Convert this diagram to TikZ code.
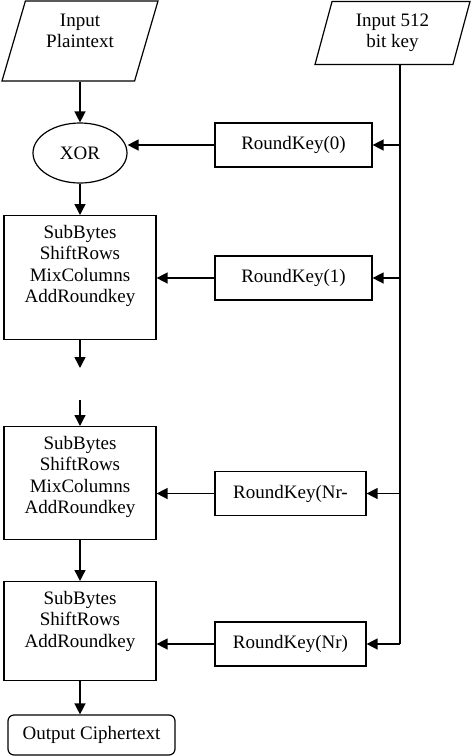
\documentclass[tikz,border=0pt]{standalone}
\usepackage{fontspec}
\setmainfont{Liberation Serif}
\usetikzlibrary{shapes.geometric, arrows.meta, positioning}
\usetikzlibrary{calc}

\begin{document}
\begin{tikzpicture}[x=1pt, y=1pt, line width=1.2pt,
		font=\fontsize{19}{21.5}\selectfont,
		io/.style={draw, trapezium, trapezium left angle=68, trapezium right angle=112, trapezium stretches body, align=center, inner sep=2pt},
		roundbox/.style={draw, align=center, anchor=north, minimum width=152pt, inner xsep=2pt, inner ysep=9.5pt},
		keybox/.style={draw, minimum height=44pt, inner sep=2pt},
		arr/.style={-{Triangle[length=11pt,width=11pt]}, line width=1.4pt}]
		\useasboundingbox (0,0) rectangle (474,-756);
		\draw (80,-41) node[io, minimum width=156pt, minimum height=80pt, text depth=20pt] (plain) {Input\\Plaintext}
		(392.5,-33) node[io, minimum width=155pt, minimum height=63pt] (key) {Input 512\\bit key}
		(80,-153) node[draw, ellipse, minimum width=94pt, minimum height=60pt, inner sep=0pt] (xor) {XOR}
		(80,-215) node[roundbox, text depth=27pt] (blk1) {SubBytes\\ShiftRows\\MixColumns\\AddRoundkey}
		(80,-426) node[roundbox, text depth=16pt] (blk2) {SubBytes\\ShiftRows\\MixColumns\\AddRoundkey}
		(80,-581) node[roundbox, text depth=24pt] (blk3) {SubBytes\\ShiftRows\\AddRoundkey}
		(91.5,-735) node[draw, rounded corners=6pt, minimum width=167pt, minimum height=40pt, inner sep=2pt] (out) {Output Ciphertext}
		(293.5,-145) node[keybox, minimum width=157pt] (rk0) {RoundKey(0)}
		(293.5,-278) node[keybox, minimum width=157pt] (rk1) {RoundKey(1)}
		(290.5,-493.5) node[keybox, minimum width=151pt] (rk2) {RoundKey(Nr-}
		(290.5,-644) node[keybox, minimum width=151pt] (rk3) {RoundKey(Nr)};
		
		% key line on the right
		\coordinate (k0) at (400,-145);
		\coordinate (k1) at (400,-278);
		\coordinate (k2) at (400,-493.5);
		\coordinate (k3) at (400,-644);
		\coordinate (g1) at (80,-368);
		\coordinate (g2) at (80,-400);
		\draw (key.south -| k0) -- (k3);
		
		\draw[arr] (plain.south -| xor) -- (xor.north);
		\draw[arr] (xor.south) -- (blk1.north);
		\draw[arr] (blk1.south) -- (g1);
		\draw[arr] (g2) -- (blk2.north);
		\draw[arr] (blk2.south) -- (blk3.north);
		\draw[arr] (blk3.south) -- (blk3.south |- out.north);
		
		\draw[arr] (k0) -- (rk0);
		\draw[arr] (k1) -- (rk1);
		\draw[arr] (k2) -- (rk2);
		\draw[arr] (k3) -- (rk3);
		\draw[arr] (rk0.west) -- (rk0.west -| xor.east);
		\draw[arr] (rk1.west) -- (rk1.west -| blk1.east);
		\draw[arr] (rk2.west) -- (rk2.west -| blk2.east);
		\draw[arr] (rk3.west) -- (rk3.west -| blk3.east);
	\end{tikzpicture}
\end{document}
